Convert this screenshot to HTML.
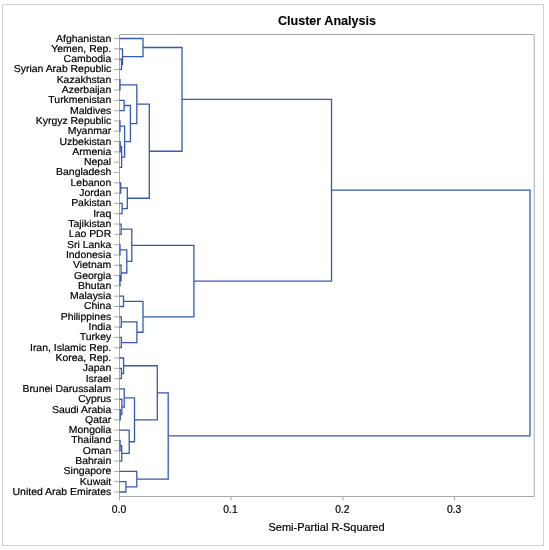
<!DOCTYPE html>
<html><head><meta charset="utf-8"><title>Cluster Analysis</title><style>
html,body{margin:0;padding:0;background:#fff;}
body{width:549px;height:550px;overflow:hidden;}
svg{display:block;}
text{font-family:"Liberation Sans",Arial,sans-serif;fill:#000;stroke:#000;stroke-width:0.2px;}
.lv text{text-anchor:end;font-size:10.45px;text-rendering:geometricPrecision;}
.xv text{text-anchor:middle;font-size:10.3px;}
.ti{text-anchor:middle;font-weight:bold;font-size:12.6px;stroke-width:0.1px;}
.al{text-anchor:middle;font-size:11px;}
</style></head><body>
<svg width="549" height="550" viewBox="0 0 549 550">
<rect x="0" y="0" width="549" height="550" fill="#fff"/>
<rect x="2.5" y="4.5" width="541" height="541" fill="none" stroke="#d0d0d0" stroke-width="1"/>
<text class="ti" x="327" y="24.8">Cluster Analysis</text>
<path d="M119.5 34.5H534.2V496.5H119.5Z" fill="none" stroke="#a9a9a9" stroke-width="1"/>
<path d="M114 38.50H119.5M114 48.81H119.5M114 59.11H119.5M114 69.42H119.5M114 79.73H119.5M114 90.03H119.5M114 100.34H119.5M114 110.65H119.5M114 120.96H119.5M114 131.26H119.5M114 141.57H119.5M114 151.88H119.5M114 162.18H119.5M114 172.49H119.5M114 182.80H119.5M114 193.11H119.5M114 203.41H119.5M114 213.72H119.5M114 224.03H119.5M114 234.33H119.5M114 244.64H119.5M114 254.95H119.5M114 265.25H119.5M114 275.56H119.5M114 285.87H119.5M114 296.18H119.5M114 306.48H119.5M114 316.79H119.5M114 327.10H119.5M114 337.40H119.5M114 347.71H119.5M114 358.02H119.5M114 368.32H119.5M114 378.63H119.5M114 388.94H119.5M114 399.25H119.5M114 409.55H119.5M114 419.86H119.5M114 430.17H119.5M114 440.47H119.5M114 450.78H119.5M114 461.09H119.5M114 471.39H119.5M114 481.70H119.5M114 492.01H119.5M119.5 496.5V500.5M231.0 496.5V500.5M342.9 496.5V500.5M454.6 496.5V500.5" fill="none" stroke="#a9a9a9" stroke-width="1"/>
<path d="M119.50 59.11H121.50V69.42H119.50M119.50 48.81H122.50V64.27H121.50M119.50 38.50H143.00V56.54H122.50M119.50 79.73H120.00V90.03H119.50M119.50 100.34H124.10V110.65H119.50M119.50 120.96H120.00V131.26H119.50M119.50 141.57H120.20V151.88H119.50M120.20 146.72H121.60V167.34H119.50M120.00 126.11H124.60V157.03H121.60M124.10 105.50H130.40V141.57H124.60M120.00 84.88H136.80V123.53H130.40M119.50 182.80H120.70V193.11H119.50M119.50 203.41H122.10V213.72H119.50M120.70 187.95H127.30V208.57H122.10M136.80 104.21H149.30V198.26H127.30M143.00 47.52H182.00V151.23H149.30M119.50 224.03H121.10V234.33H119.50M119.50 244.64H120.00V254.95H119.50M119.50 275.56H120.00V285.87H119.50M119.50 265.25H121.10V280.71H120.00M120.00 249.79H126.80V272.98H121.10M121.10 229.18H131.80V261.39H126.80M119.50 296.18H123.50V306.48H119.50M119.50 316.79H121.30V327.10H119.50M119.50 337.40H121.30V347.71H119.50M121.30 321.94H136.90V342.56H121.30M123.50 301.33H143.00V332.25H136.90M131.80 245.28H193.90V316.79H143.00M182.00 99.38H331.50V281.04H193.90M119.50 368.32H121.40V378.63H119.50M119.50 358.02H123.60V373.48H121.40M119.50 409.55H120.30V419.86H119.50M119.50 399.25H121.90V414.71H120.30M119.50 388.94H124.20V406.98H121.90M119.50 440.47H120.10V450.78H119.50M120.10 445.63H121.70V461.09H119.50M119.50 430.17H129.20V453.36H121.70M124.20 397.96H134.50V441.76H129.20M123.60 365.75H157.30V419.86H134.50M119.50 481.70H125.90V492.01H119.50M119.50 471.39H136.80V486.85H125.90M157.30 392.80H168.20V479.12H136.80M331.50 190.21H530.00V435.96H168.20" fill="none" stroke="#3659b4" stroke-width="1.3" stroke-linejoin="miter"/>
<g class="lv">
<text transform="matrix(1 0 0 0.96 111.2 41.50)">Afghanistan</text>
<text transform="matrix(1 0 0 0.96 111.2 51.81)">Yemen, Rep.</text>
<text transform="matrix(1 0 0 0.96 111.2 62.11)">Cambodia</text>
<text transform="matrix(1 0 0 0.96 111.2 72.42)">Syrian Arab Republic</text>
<text transform="matrix(1 0 0 0.96 111.2 82.73)">Kazakhstan</text>
<text transform="matrix(1 0 0 0.96 111.2 93.03)">Azerbaijan</text>
<text transform="matrix(1 0 0 0.96 111.2 103.34)">Turkmenistan</text>
<text transform="matrix(1 0 0 0.96 111.2 113.65)">Maldives</text>
<text transform="matrix(1 0 0 0.96 111.2 123.96)">Kyrgyz Republic</text>
<text transform="matrix(1 0 0 0.96 111.2 134.26)">Myanmar</text>
<text transform="matrix(1 0 0 0.96 111.2 144.57)">Uzbekistan</text>
<text transform="matrix(1 0 0 0.96 111.2 154.88)">Armenia</text>
<text transform="matrix(1 0 0 0.96 111.2 165.18)">Nepal</text>
<text transform="matrix(1 0 0 0.96 111.2 175.49)">Bangladesh</text>
<text transform="matrix(1 0 0 0.96 111.2 185.80)">Lebanon</text>
<text transform="matrix(1 0 0 0.96 111.2 196.11)">Jordan</text>
<text transform="matrix(1 0 0 0.96 111.2 206.41)">Pakistan</text>
<text transform="matrix(1 0 0 0.96 111.2 216.72)">Iraq</text>
<text transform="matrix(1 0 0 0.96 111.2 227.03)">Tajikistan</text>
<text transform="matrix(1 0 0 0.96 111.2 237.33)">Lao PDR</text>
<text transform="matrix(1 0 0 0.96 111.2 247.64)">Sri Lanka</text>
<text transform="matrix(1 0 0 0.96 111.2 257.95)">Indonesia</text>
<text transform="matrix(1 0 0 0.96 111.2 268.25)">Vietnam</text>
<text transform="matrix(1 0 0 0.96 111.2 278.56)">Georgia</text>
<text transform="matrix(1 0 0 0.96 111.2 288.87)">Bhutan</text>
<text transform="matrix(1 0 0 0.96 111.2 299.18)">Malaysia</text>
<text transform="matrix(1 0 0 0.96 111.2 309.48)">China</text>
<text transform="matrix(1 0 0 0.96 111.2 319.79)">Philippines</text>
<text transform="matrix(1 0 0 0.96 111.2 330.10)">India</text>
<text transform="matrix(1 0 0 0.96 111.2 340.40)">Turkey</text>
<text transform="matrix(1 0 0 0.96 111.2 350.71)">Iran, Islamic Rep.</text>
<text transform="matrix(1 0 0 0.96 111.2 361.02)">Korea, Rep.</text>
<text transform="matrix(1 0 0 0.96 111.2 371.32)">Japan</text>
<text transform="matrix(1 0 0 0.96 111.2 381.63)">Israel</text>
<text transform="matrix(1 0 0 0.96 111.2 391.94)">Brunei Darussalam</text>
<text transform="matrix(1 0 0 0.96 111.2 402.25)">Cyprus</text>
<text transform="matrix(1 0 0 0.96 111.2 412.55)">Saudi Arabia</text>
<text transform="matrix(1 0 0 0.96 111.2 422.86)">Qatar</text>
<text transform="matrix(1 0 0 0.96 111.2 433.17)">Mongolia</text>
<text transform="matrix(1 0 0 0.96 111.2 443.47)">Thailand</text>
<text transform="matrix(1 0 0 0.96 111.2 453.78)">Oman</text>
<text transform="matrix(1 0 0 0.96 111.2 464.09)">Bahrain</text>
<text transform="matrix(1 0 0 0.96 111.2 474.39)">Singapore</text>
<text transform="matrix(1 0 0 0.96 111.2 484.70)">Kuwait</text>
<text transform="matrix(1 0 0 0.96 111.2 495.01)">United Arab Emirates</text>
</g>
<g class="xv">
<text x="119.00" y="512.8">0.0</text><text x="230.50" y="512.8">0.1</text><text x="342.40" y="512.8">0.2</text><text x="454.10" y="512.8">0.3</text>
</g>
<text class="al" x="326.5" y="531.2">Semi-Partial R-Squared</text>
</svg>
</body></html>
